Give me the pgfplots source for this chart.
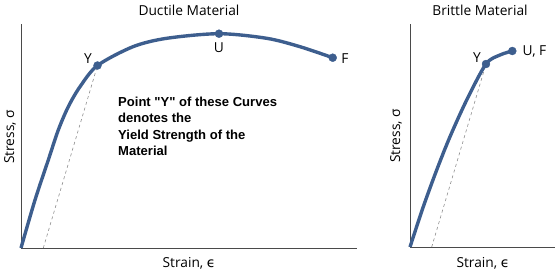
\documentclass[border=0pt]{standalone}
\usepackage{pgfplots}
\pgfplotsset{compat=1.18}
\usepackage{fontspec}
\setmainfont{Open Sans}
\newfontfamily\boldsans{Liberation Sans}
\newfontfamily\dejavu{DejaVu Sans}
\definecolor{curvec}{HTML}{3D5E8E}
\definecolor{axisc}{HTML}{4A4A4A}
\definecolor{dashc}{HTML}{8C8C8C}
\pgfplotsset{
  ssplot/.style={
    scale only axis,
    axis x line=bottom, axis y line=left,
    axis line style={-, axisc, line width=0.8pt},
    xtick=\empty, ytick=\empty,
    clip=false,
    every axis title/.style={font=\fontsize{13.8}{15}\selectfont, anchor=center},
    every axis x label/.style={font=\fontsize{13.8}{15}\selectfont, anchor=center},
    every axis y label/.style={font=\fontsize{13.8}{15}\selectfont, anchor=center, rotate=90},
  },
}
\begin{document}
\begin{tikzpicture}
% Ductile material (pixel-based coordinates, y measured upward from image bottom)
\begin{axis}[ssplot,
  width=336bp, height=224bp,
  xmin=21, xmax=357, ymin=25, ymax=249,
  title={Ductile Material},
  title style={at={(axis description cs:0.5,1.0625)}},
  xlabel={Strain, {\dejavu ϵ}},
  xlabel style={at={(axis description cs:0.5,-0.067)}},
  ylabel={Stress, σ},
  ylabel style={at={(axis description cs:-0.0327,0.496)}},
]
\addplot[dashc, dashed, line width=0.6pt] coordinates {(43.3,25) (97.5,207.5)};
\addplot[curvec, line width=3.4pt, smooth, tension=0.5] coordinates {
  (21,25) (35,73) (48.3,113) (58.3,143) (68.3,166.3) (80,186.3) (97.5,207.5)
  (133,226.3) (166.7,234.7) (219,239.3) (266.7,234.7) (300,226.3) (332.7,215.3)};
\addplot[only marks, mark=*, mark size=4pt, color=curvec] coordinates {(97.5,207.5) (219,239.3) (332.7,215.3)};
\node[font=\fontsize{13.8}{15}\selectfont] at (axis cs:88,214) {Y};
\node[font=\fontsize{13.8}{15}\selectfont] at (axis cs:219,225) {U};
\node[font=\fontsize{13.8}{15}\selectfont] at (axis cs:345,214) {F};
\node[font=\boldsans\bfseries\fontsize{13.1}{16.3}\selectfont, anchor=north west, align=left, inner sep=0pt]
  at (axis cs:118,176) {Point "Y" of these Curves\\denotes the\\Yield Strength of the\\Material};
\end{axis}
% Brittle material
\begin{axis}[ssplot, at={(389bp,1bp)}, anchor=south west,
  width=145bp, height=223bp,
  xmin=410, xmax=555, ymin=26, ymax=249,
  title={Brittle Material},
  title style={at={(axis description cs:0.483,1.063)}},
  xlabel={Strain, {\dejavu ϵ}},
  xlabel style={at={(axis description cs:0.503,-0.072)}},
  ylabel={Stress, σ},
  ylabel style={at={(axis description cs:-0.097,0.498)}},
]
\addplot[dashc, dashed, line width=0.6pt] coordinates {(431.7,26) (486,209)};
\addplot[curvec, line width=3.4pt, smooth, tension=0.5] coordinates {
  (410,26) (423.3,66.3) (436.7,103) (450,136.3) (466.7,173) (486,209) (500,218) (512.3,222)};
\addplot[only marks, mark=*, mark size=4pt, color=curvec] coordinates {(486,209) (512.3,222)};
\node[font=\fontsize{13.8}{15}\selectfont] at (axis cs:477,215) {Y};
\node[font=\fontsize{13.8}{15}\selectfont, anchor=west] at (axis cs:519,222) {U, F};
\end{axis}
\pgfresetboundingbox
\useasboundingbox (-21bp,-25bp) rectangle (537bp,248bp);
\end{tikzpicture}
\end{document}
